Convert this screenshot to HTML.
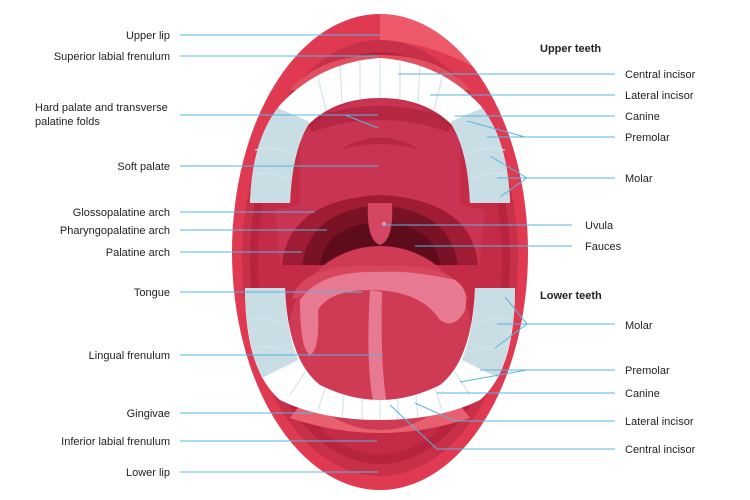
<!DOCTYPE html>
<html><head><meta charset="utf-8"><style>
html,body{margin:0;padding:0;background:#fff;width:750px;height:500px;overflow:hidden}
svg text{font-family:"Liberation Sans",sans-serif;font-size:11px;fill:#222}
</style></head><body>
<svg width="750" height="500" viewBox="0 0 750 500" xmlns="http://www.w3.org/2000/svg">
<defs><clipPath id="lip"><ellipse cx="380" cy="252" rx="148" ry="238"/></clipPath></defs>
<!-- lips -->
<ellipse cx="380" cy="252" rx="148" ry="238" fill="#e03a52"/>
<g clip-path="url(#lip)">
<path d="M380 10 L540 10 L540 120 Q470 45 380 40Z" fill="#ee5a6a"/>
<path d="M230 380 Q240 470 380 490 Q520 470 530 380 L540 500 L220 500Z" fill="#e4404f" opacity="0.6"/>
</g>
<ellipse cx="380" cy="258" rx="138" ry="218" fill="#c8304a"/>
<ellipse cx="380" cy="258" rx="130" ry="206" fill="#b8233e"/>
<ellipse cx="380" cy="258" rx="122" ry="196" fill="#c42b46"/>
<!-- gums -->
<path d="M290 90 Q320 55 380 55 Q440 55 470 90Z" fill="#e0505f"/>
<path d="M290 418 Q380 448 470 418 L460 405 Q380 430 300 405Z" fill="#e8606f"/>
<!-- palate -->
<path d="M300 205 L300 140 Q330 100 380 98 Q430 100 460 140 L460 205 L485 210 L480 265 L280 265 L275 210Z" fill="#c93452"/>
<path d="M305 120 Q380 92 455 120 L448 132 Q380 108 312 132Z" fill="#a81f38" opacity="0.6"/>
<path d="M340 150 Q380 125 420 150 Q380 138 340 150Z" fill="#a81f38" opacity="0.6"/>
<!-- throat -->
<path d="M282 265 Q288 200 380 195 Q472 200 478 265Z" fill="#a01c35"/>
<path d="M302 265 Q310 210 380 205 Q450 210 458 265Z" fill="#7a1226"/>
<path d="M320 265 Q325 225 380 222 Q435 225 440 265Z" fill="#5e0c1c"/>
<path d="M368 203 Q366 240 380 245 Q394 240 392 203Z" fill="#d54663"/>
<circle cx="384" cy="224" r="2" fill="#f29aa8"/>
<!-- tongue -->
<ellipse cx="380" cy="338" rx="92" ry="92" fill="#cf3a55"/>
<path d="M292 300 Q300 262 380 266 Q460 262 468 300 Q420 278 380 282 Q340 278 292 300Z" fill="#d8455f"/>
<path d="M300 300 Q300 350 310 355 Q320 350 318 310 Q330 290 370 290 Q420 290 440 320 Q455 330 465 310 Q470 290 455 280 Q410 270 380 272 Q320 270 300 300Z" fill="#e77a90"/>
<path d="M370 290 Q365 370 375 410 L388 410 Q380 370 382 292Z" fill="#e77a90"/>
<!-- upper teeth -->
<path d="M250 203 Q252 140 280 105 Q320 62 380 58 Q440 62 480 105 Q508 140 510 203 L470 203 Q468 150 452 125 Q425 98 380 98 Q335 98 308 125 Q292 150 290 203Z" fill="#fff"/>
<path d="M250 203 Q252 140 278 108 L310 122 Q292 150 290 203Z" fill="#c9dde5"/>
<path d="M510 203 Q508 140 482 108 L450 122 Q468 150 470 203Z" fill="#c9dde5"/>
<g stroke="#d6e3ea" stroke-width="1.2" fill="none">
<line x1="380" y1="58" x2="380" y2="98"/><line x1="360" y1="60" x2="360" y2="99"/><line x1="400" y1="60" x2="400" y2="99"/>
<line x1="340" y1="66" x2="342" y2="102"/><line x1="420" y1="66" x2="418" y2="102"/>
<line x1="318" y1="78" x2="326" y2="110"/><line x1="442" y1="78" x2="434" y2="110"/>
<path d="M255 150 Q275 145 296 155M253 175 Q272 170 292 180M505 150 Q485 145 464 155M507 175 Q488 170 468 180"/>
</g>
<!-- lower teeth -->
<path d="M245 288 L285 288 Q288 360 320 385 Q350 400 380 400 Q410 400 440 385 Q472 360 475 288 L515 288 Q515 370 480 400 Q440 420 380 420 Q320 420 280 400 Q245 370 245 288Z" fill="#fff"/>
<path d="M245 288 L285 288 Q286 330 298 360 L262 378 Q245 340 245 288Z" fill="#c9dde5"/>
<path d="M515 288 L475 288 Q474 330 462 360 L498 378 Q515 340 515 288Z" fill="#c9dde5"/>
<g stroke="#d6e3ea" stroke-width="1.2" fill="none">
<line x1="380" y1="400" x2="380" y2="420"/><line x1="362" y1="399" x2="362" y2="419"/><line x1="398" y1="399" x2="398" y2="419"/>
<line x1="344" y1="396" x2="342" y2="417"/><line x1="416" y1="396" x2="418" y2="417"/>
<line x1="325" y1="388" x2="318" y2="410"/><line x1="435" y1="388" x2="442" y2="410"/>
<line x1="305" y1="372" x2="290" y2="395"/><line x1="455" y1="372" x2="470" y2="395"/>
<path d="M250 320 Q268 315 287 325M252 348 Q270 343 292 352M510 320 Q492 315 473 325M508 348 Q490 343 468 352"/>
</g>
<!-- leader lines -->
<g stroke="#5ab4e0" stroke-width="1" fill="none">
<path d="M180 35H380M180 56H378M180 115H378M345 115L378 128M180 166H378M180 212H315M180 230H327M180 252H302M180 292H363M180 355H383M180 413H313M180 441H377M180 472H378"/>
<path d="M398 74H615M430 95H615M455 116H615M467 121L525 137M487 137H615M490 156L527 178M497 178H615M500 197L527 178"/>
<path d="M382 225H572M415 246H572"/>
<path d="M505 297L527 324M497 324H615M495 348L527 324M480 370H615M460 382L527 370M437 393H615M415 403L455 421H615M390 405L437 449H615"/>
</g>
<!-- left labels -->
<g text-anchor="end">
<text x="170" y="39">Upper lip</text>
<text x="170" y="60">Superior labial frenulum</text>
<text x="170" y="170">Soft palate</text>
<text x="170" y="216">Glossopalatine arch</text>
<text x="170" y="234">Pharyngopalatine arch</text>
<text x="170" y="256">Palatine arch</text>
<text x="170" y="296">Tongue</text>
<text x="170" y="359">Lingual frenulum</text>
<text x="170" y="417">Gingivae</text>
<text x="170" y="445">Inferior labial frenulum</text>
<text x="170" y="476">Lower lip</text>
</g>
<text x="35" y="111">Hard palate and transverse</text>
<text x="35" y="125">palatine folds</text>
<!-- right labels -->
<text x="540" y="52" font-weight="bold">Upper teeth</text>
<text x="625" y="78">Central incisor</text>
<text x="625" y="99">Lateral incisor</text>
<text x="625" y="120">Canine</text>
<text x="625" y="141">Premolar</text>
<text x="625" y="182">Molar</text>
<text x="585" y="229">Uvula</text>
<text x="585" y="250">Fauces</text>
<text x="540" y="299" font-weight="bold">Lower teeth</text>
<text x="625" y="329">Molar</text>
<text x="625" y="374">Premolar</text>
<text x="625" y="397">Canine</text>
<text x="625" y="425">Lateral incisor</text>
<text x="625" y="453">Central incisor</text>
</svg>
</body></html>
